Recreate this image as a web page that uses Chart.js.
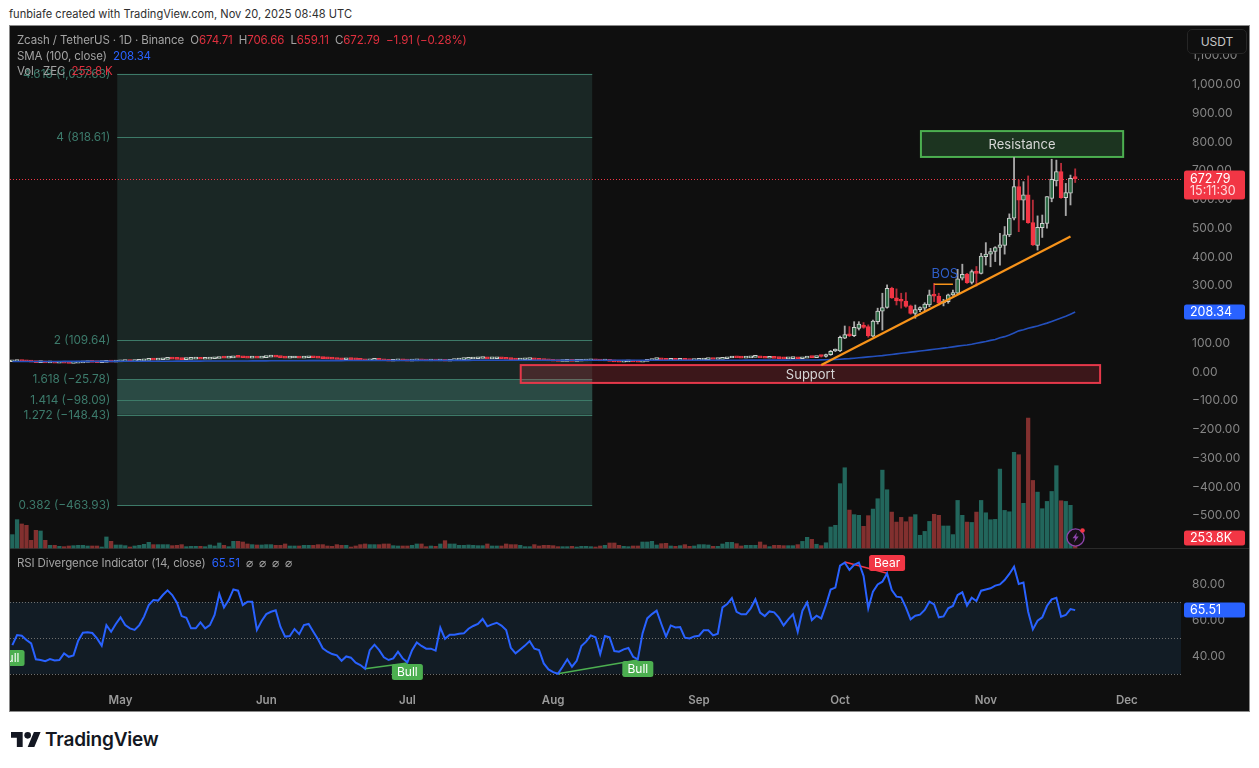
<!DOCTYPE html>
<html>
<head>
<meta charset="utf-8">
<title>Zcash / TetherUS</title>
<script src="https://cdn.jsdelivr.net/npm/chart.js@4"></script>
<style>
    html, body { margin: 0; padding: 0; background: #fff; width: 1259px; height: 768px; overflow: hidden; font-family: Inter, "Liberation Sans", sans-serif; }
    #caption { position: absolute; left: 9px; top: 7px; font-size: 11.1px; line-height: 15px; color: #2e2e2e; white-space: nowrap; }
    #frame { position: absolute; left: 10px; top: 26px; width: 1239px; height: 685px; background: #0f0f0f; box-shadow: 0 0 0 1px #8a8a8a; overflow: hidden; }
    #chart { position: absolute; left: 0; top: 0; }
    .row { position: absolute; left: 7px; font-size: 11.5px; letter-spacing: -0.12px; line-height: 15px; color: #a3a3a3; white-space: nowrap; }
    .red { color: #e0303f; }
    .blue { color: #2962ff; }
    #usdt { position: absolute; left: 1177px; top: 3px; width: 58px; height: 23px; border: 1px solid #262626; border-radius: 5px; background: #0f0f0f; color: #c8c8c8; font-size: 12px; line-height: 23px; text-align: center; }
    #bolt { position: absolute; left: 1055px; top: 500px; }
    #brand { position: absolute; left: 11px; top: 728px; display: flex; align-items: center; color: #131722; font-size: 19px; font-weight: 600; letter-spacing: -0.2px; }
    #brand svg { margin-right: 4px; }
</style>
</head>
<body>
<div id="caption">funbiafe created with TradingView.com, Nov 20, 2025 08:48 UTC</div>
<div id="frame">
    <canvas id="chart" width="1239" height="685"></canvas>
    <div class="row" style="top:7px">Zcash / TetherUS · 1D · Binance &nbsp;O<span class="red">674.71</span> &nbsp;H<span class="red">706.66</span> &nbsp;L<span class="red">659.11</span> &nbsp;C<span class="red">672.79</span> &nbsp;<span class="red">−1.91 (−0.28%)</span></div>
    <div class="row" style="top:23px">SMA (100, close) &nbsp;<span class="blue">208.34</span></div>
    <div class="row" style="top:38px">Vol · ZEC &nbsp;<span class="red">253.8 K</span></div>
    <div class="row" style="top:530px">RSI Divergence Indicator (14, close) &nbsp;<span class="blue">65.51</span> &nbsp;⌀ &nbsp;⌀ &nbsp;⌀ &nbsp;⌀</div>
    <div id="usdt">USDT</div>
    <svg id="bolt" width="22" height="22" viewBox="0 0 22 22">
        <circle cx="10.5" cy="11.5" r="8.6" fill="#161016" stroke="#8e44ad" stroke-width="1.4"/>
        <path d="M12 6.5 L7.5 12.2 H10.2 L9 16.5 L13.7 10.5 H11 Z" fill="#8e44ad"/>
        <circle cx="17.5" cy="4.5" r="2.3" fill="#f23645"/>
    </svg>
</div>
<div id="brand">
    <svg width="30" height="19" viewBox="0 4 36 18"><path d="M14 22H7V11H0V4h14v18zM28 22h-8l7.5-18h8L28 22z" fill="#131722"/><circle cx="20" cy="8" r="4" fill="#131722"/></svg>
    TradingView
</div>

<script>
// Calendar of the time axis: month name, first day, last day
const calendar = [['Apr', 8, 30], ['May', 1, 31], ['Jun', 1, 30], ['Jul', 1, 31], ['Aug', 1, 31], ['Sep', 1, 30], ['Oct', 1, 31], ['Nov', 1, 30], ['Dec', 1, 12]];
const days = [];
calendar.forEach(([month, first, last]) => {
    for (let d = first; d <= last; d++) days.push(month + ' ' + d);
});

// Daily candles, Apr 8 to Nov 20
const opens = [
    35.5, 36.5, 37.5, 36.5, 35.5, 34.5, 32.5, 33.5, 31.5, 32.5,
    31, 31.8, 31, 30.2, 31, 32, 33, 34, 33.2, 32.5,
    33.2, 36.5, 34.5, 35.2, 36, 36.8, 36, 37.5, 38.8, 40.5,
    43, 41.5, 42.5, 44, 46, 45, 44, 43, 43.8, 44.5,
    45.2, 44.2, 45, 46.2, 47, 50, 48.5, 49.2, 52.5, 51,
    49.5, 48, 49.5, 48.5, 50, 51.5, 53, 51.5, 50, 48,
    48.8, 49.5, 48.5, 49.5, 50.5, 49.5, 48, 46.5, 45.5, 44.8,
    43.5, 42.5, 43.2, 42.8, 42, 40.5, 39, 40.5, 42, 40.5,
    39, 37.5, 38.5, 39.2, 38.5, 37.8, 38.8, 40.5, 39, 38.2,
    39, 38.2, 40, 37.5, 39.5, 41.5, 42.8, 44, 45.2, 46.2,
    47, 47.8, 45.5, 46.2, 47, 46, 44.2, 42.8, 41.5, 42.5,
    43, 43.5, 42, 41, 39.8, 38.5, 37.4, 36.6, 37.2, 37.8,
    37, 37.4, 38.2, 39, 39.6, 39.2, 38.2, 39.4, 37.2, 35.4,
    34.2, 35, 35.6, 34.8, 34, 37, 40, 43, 44.4, 42.4,
    40.4, 41.2, 40.6, 41.6, 40.2, 39.4, 40.2, 41.6, 43, 44.2,
    43.4, 44, 46, 48.6, 51.2, 49.4, 48.4, 49.4, 50.6, 51.8,
    49, 47.8, 48.4, 47.4, 46.4, 45.4, 46.4, 47.4, 46, 48.4,
    53, 50,
    56, 54, 60, 73, 73, 118, 128, 126, 152, 163,
    158, 125, 175, 212, 225, 291, 258, 250, 247, 230,
    204, 217, 222, 233, 267, 264, 240, 245, 268, 274,
    326, 341, 312, 349, 343, 401, 410, 419, 433, 440,
    477, 535, 645, 598, 616, 520, 440, 502, 517, 604,
    665, 697, 606, 622, 674.71
];
const closes = [
    36.5, 37.5, 36.5, 35.5, 34.5, 32.5, 33.5, 31.5, 32.5, 31,
    31.8, 31, 30.2, 31, 32, 33, 34, 33.2, 32.5, 33.2,
    36.5, 34.5, 35.2, 36, 36.8, 36, 37.5, 38.8, 40.5, 43,
    41.5, 42.5, 44, 46, 45, 44, 43, 43.8, 44.5, 45.2,
    44.2, 45, 46.2, 47, 50, 48.5, 49.2, 52.5, 51, 49.5,
    48, 49.5, 48.5, 50, 51.5, 53, 51.5, 50, 48, 48.8,
    49.5, 48.5, 49.5, 50.5, 49.5, 48, 46.5, 45.5, 44.8, 43.5,
    42.5, 43.2, 42.8, 42, 40.5, 39, 40.5, 42, 40.5, 39,
    37.5, 38.5, 39.2, 38.5, 37.8, 38.8, 40.5, 39, 38.2, 39,
    38.2, 40, 37.5, 39.5, 41.5, 42.8, 44, 45.2, 46.2, 47,
    47.8, 45.5, 46.2, 47, 46, 44.2, 42.8, 41.5, 42.5, 43,
    43.5, 42, 41, 39.8, 38.5, 37.4, 36.6, 37.2, 37.8, 37,
    37.4, 38.2, 39, 39.6, 39.2, 38.2, 39.4, 37.2, 35.4, 34.2,
    35, 35.6, 34.8, 34, 37, 40, 43, 44.4, 42.4, 40.4,
    41.2, 40.6, 41.6, 40.2, 39.4, 40.2, 41.6, 43, 44.2, 43.4,
    44, 46, 48.6, 51.2, 49.4, 48.4, 49.4, 50.6, 51.8, 49,
    47.8, 48.4, 47.4, 46.4, 45.4, 46.4, 47.4, 46, 48.4, 53,
    50, 52,
    54, 60, 72, 76, 121, 130, 126, 155, 167, 155,
    126, 177, 212, 224, 291, 258, 247, 246, 228, 204,
    217, 222, 236, 268, 264, 239, 245, 268, 276, 324,
    340, 311, 349, 343, 403, 410, 419, 433, 442, 477,
    535, 645, 598, 616, 519, 442, 503, 517, 610, 670,
    697, 606, 624, 674, 672.79
];
// Wicks only readable from late September on, the flat part is thinner than a pixel
const wickFrom = 172;
const highs = [
    58, 62, 75, 80, 125, 160, 158, 175, 175, 172,
    164, 181, 222, 274, 303, 295, 289, 274, 276, 233,
    233, 227, 241, 285, 308, 274, 253, 271, 285, 357,
    375, 343, 355, 367, 413, 450, 430, 436, 482, 506,
    550, 747, 668, 662, 682, 598, 543, 546, 610, 740,
    737, 726, 656, 685, 706.66
];
const lows = [
    52, 52, 58, 71, 71, 116, 123, 123, 146, 152,
    121, 123, 167, 146, 222, 256, 233, 222, 225, 201,
    187, 210, 213, 227, 245, 233, 230, 239, 266, 271,
    320, 308, 306, 299, 341, 372, 366, 384, 372, 410,
    471, 529, 488, 529, 517, 440, 424, 468, 500, 592,
    647, 604, 544, 581, 659.11
];
const smaValues = [
    36.4, 36.4, 36.5, 36.5, 36.5, 36.6, 36.6, 36.6, 36.7, 36.7,
    36.7, 36.8, 36.8, 36.8, 36.9, 36.9, 36.9, 37, 37, 37,
    37.1, 37.1, 37.1, 37.2, 37.2, 37.2, 37.3, 37.3, 37.3, 37.4,
    37.4, 37.5, 37.5, 37.6, 37.6, 37.7, 37.7, 37.8, 37.8, 37.9,
    37.9, 38, 38, 38.1, 38.1, 38.2, 38.3, 38.3, 38.4, 38.5,
    38.5, 38.6, 38.7, 38.7, 38.8, 38.9, 39, 39, 39.1, 39.2,
    39.2, 39.3, 39.3, 39.4, 39.4, 39.5, 39.5, 39.6, 39.6, 39.7,
    39.7, 39.8, 39.8, 39.9, 39.9, 40, 40, 40, 40.1, 40.1,
    40.1, 40.2, 40.2, 40.2, 40.3, 40.3, 40.3, 40.3, 40.4, 40.4,
    40.4, 40.4, 40.4, 40.5, 40.5, 40.5, 40.5, 40.5, 40.6, 40.6,
    40.6, 40.6, 40.6, 40.7, 40.7, 40.7, 40.7, 40.7, 40.7, 40.8,
    40.8, 40.8, 40.8, 40.8, 40.8, 40.8, 40.8, 40.8, 40.8, 40.8,
    40.8, 40.8, 40.8, 40.8, 40.8, 40.8, 40.8, 40.8, 40.8, 40.8,
    40.8, 40.8, 40.8, 40.8, 40.8, 40.8, 40.8, 40.8, 40.8, 40.9,
    40.9, 40.9, 40.9, 40.9, 40.9, 40.9, 41, 41, 41, 41,
    41, 41, 41.1, 41.1, 41.1, 41.1, 41.2, 41.2, 41.2, 41.2,
    41.3, 41.3, 41.3, 41.4, 41.4, 41.4, 41.5, 41.5, 41.6, 41.6,
    41.7, 41.8,
    42, 42.5, 43, 43.5, 44.5, 45.5, 46.5, 48, 49.5, 51,
    52.5, 54, 55.5, 57, 59, 61, 63, 65, 67, 69,
    71, 73, 75, 77, 79, 81, 83, 85, 87.5, 90,
    92, 94, 96.5, 100, 103, 106, 110, 113, 119, 123,
    129, 136, 143, 147, 152, 156, 160, 165, 170, 176,
    182, 188, 194, 201, 208.34
];
// Volume in thousands of ZEC
const volumes = [
    339, 720, 610, 576, 195, 449, 432, 195, 68, 68,
    42, 34, 51, 59, 68, 68, 51, 51, 51, 25,
    280, 169, 76, 76, 59, 25, 51, 68, 93, 144,
    85, 85, 85, 85, 59, 68, 85, 34, 42, 42,
    42, 34, 76, 51, 127, 68, 34, 169, 169, 152,
    102, 85, 76, 76, 85, 85, 68, 68, 102, 51,
    51, 51, 68, 68, 68, 85, 85, 51, 42, 85,
    68, 68, 25, 51, 85, 102, 85, 85, 85, 102,
    102, 59, 51, 51, 51, 68, 102, 102, 34, 51,
    42, 102, 186, 102, 102, 68, 68, 76, 68, 59,
    59, 102, 51, 51, 51, 102, 85, 85, 68, 34,
    34, 85, 51, 68, 68, 59, 34, 34, 34, 42,
    25, 42, 42, 34, 25, 51, 68, 127, 127, 68,
    42, 34, 51, 51, 152, 152, 169, 76, 110, 119,
    51, 42, 59, 85, 42, 51, 85, 85, 76, 42,
    42, 102, 144, 144, 110, 51, 68, 68, 68, 152,
    76, 34, 68, 68, 59, 59, 59, 85,
    168, 271, 219, 95, 60, 133, 533, 576, 1634, 2038,
    963, 847, 830, 550, 821, 989, 1251, 1978, 1479, 912,
    658, 778, 667, 787, 847, 323, 421, 675, 856, 830,
    559, 559, 340, 1208, 830, 658, 649, 912, 1208, 894,
    718, 727, 2004, 955, 920, 2430, 2369, 1135, 3298, 1716,
    1419, 998, 1183, 1436, 2090, 1200, 1183, 1084, 253.8
];
const rsiValues = [
    46.1, 51.7, 51.3, 48.9, 47.0, 38.2, 37.8, 37.2, 38.3, 37.6,
    37.8, 41.5, 39.6, 40.4, 48.5, 53.0, 53.2, 52.8, 49.8, 45.8,
    57.2, 53.5, 57.8, 61.5, 57.2, 55.4, 54.5, 57.2, 61.9, 68.3,
    71.1, 70.8, 73.9, 76.5, 73.9, 69.6, 62.2, 61.3, 55.4, 55.4,
    58.7, 55.4, 57.2, 62.8, 74.5, 67.0, 71.1, 77.0, 76.3, 68.3,
    70.2, 70.2, 54.5, 59.5, 63.3, 64.6, 65.4, 56.3, 50.8, 51.1,
    55.0, 52.2, 57.2, 57.8, 53.5, 49.3, 44.3, 42.4, 41.1, 40.4,
    37.4, 39.8, 39.1, 36.3, 35.0, 33.0, 43.3, 46.3, 43.3, 39.3,
    37.8, 38.7, 42.4, 38.7, 36.5, 43.3, 47.6, 45.6, 44.1, 44.1,
    43.0, 55.8, 49.6, 51.9, 51.9, 52.4, 52.6, 55.2, 56.7, 57.8,
    60.6, 56.5, 57.6, 58.5, 56.9, 54.5, 44.6, 41.5, 43.7, 45.8,
    48.3, 44.1, 43.3, 35.9, 32.6, 31.1, 30.2, 34.1, 38.2, 34.1,
    37.4, 45.6, 48.0, 51.5, 50.4, 41.1, 51.1, 50.4, 42.8, 42.4,
    43.7, 44.5, 39.6, 38.2, 52.6, 60.9, 63.3, 65.2, 57.8, 50.8,
    57.0, 55.9, 56.1, 50.2, 49.8, 50.9, 51.3, 54.3, 54.3, 51.5,
    52.4, 67.0, 68.9, 72.2, 64.6, 63.2, 63.2, 66.5, 71.5, 64.1,
    62.2, 64.8, 64.3, 61.3, 57.0, 60.4, 63.2, 53.5, 65.2, 69.8,
    60.0, 62.4, 60.9, 68.3, 76.9, 78.0,
    90.2, 91.9, 87.8, 90.6, 91.9, 84.5, 66.5, 75.8, 79.8, 81.3,
    85.9, 76.7, 73.0, 72.6, 67.0, 60.4, 62.4, 63.0, 65.6, 70.2,
    68.7, 61.5, 62.0, 66.5, 67.8, 73.9, 75.4, 68.0, 72.4, 70.6,
    76.3, 77.0, 77.6, 79.1, 79.8, 82.2, 85.6, 89.6, 80.0, 80.8,
    64.6, 54.8, 59.6, 61.5, 67.8, 71.5, 72.4, 61.9, 62.8, 66.1,
    65.51
];

// Axes
const priceTicks = [1100, 1000, 900, 800, 700, 600, 500, 400, 300, 200, 100, 0, -100, -200, -300, -400, -500];
const rsiTicks = [80, 60, 40];

// Drawings on the price pane
const fibNames = ['4.618', '4', '2', '1.618', '1.414', '1.272', '0.382'];
const fibLevels = [1037.63, 818.61, 109.64, -25.78, -98.09, -148.43, -463.93];
const fibSpan = [22.3, 123.3];
const trendLine = [{ x: 'Sep 27', y: 24 }, { x: 'Nov 19', y: 471 }];
const bosLine = [{ x: 'Oct 21', y: 305 }, { x: 'Oct 25', y: 305 }];
const resistanceSpan = [193.2, 236.2];
const resistanceLevels = [838, 748];
const supportSpan = [108.1, 231.3];
const supportLevels = [24, -38];

// Divergences on the RSI pane
const bullOne = [{ x: 'Jun 22', y: 33.0 }, { x: 'Jul 1', y: 36.1 }];
const bullTwo = [{ x: 'Aug 2', y: 30.2 }, { x: 'Aug 19', y: 37.8 }];
const bearOne = [{ x: 'Oct 2', y: 92.2 }, { x: 'Oct 11', y: 86 }];
const signalNames = ['Bull', 'Bull', 'Bull', 'Bear'];
const signalDays = [-0.7, 84, 133, 186];
const signalLevels = [38.9, 31.1, 32.8, 91.7];

const GREEN = '#4caf50';
const RED = '#f23645';
const BLUE = '#2962ff';
const FONT = 'Inter, "Liberation Sans", sans-serif';

const last = closes.length - 1;
const isUp = closes.map((c, i) => c >= opens[i]);

function formatPrice(v) {
    const text = Math.abs(v).toLocaleString('en-US', { minimumFractionDigits: 2, maximumFractionDigits: 2 });
    return (v < 0 ? '−' : '') + text;
}

function pill(ctx, x, y, w, h, color) {
    ctx.fillStyle = color;
    ctx.beginPath();
    ctx.roundRect(x, y, w, h, 2.5);
    ctx.fill();
}

// Fibonacci zones, boxes and the band under everything
const underlay = {
    id: 'underlay',
    beforeDatasetsDraw(chart) {
        const { ctx, scales, chartArea, width } = chart;
        const x = scales.x, y = scales.y, rsi = scales.yRsi;
        ctx.save();

        const left = x.getPixelForValue(fibSpan[0]);
        const right = x.getPixelForValue(fibSpan[1]);
        const level = i => y.getPixelForValue(fibLevels[i]);
        ctx.fillStyle = '#1a2725';
        ctx.fillRect(left, level(0), right - left, level(6) - level(0));
        ctx.fillStyle = '#2a4a44';
        ctx.fillRect(left, level(3), right - left, level(5) - level(3));
        ctx.strokeStyle = '#3d7a68';
        ctx.lineWidth = 1;
        ctx.font = '11.8px ' + FONT;
        ctx.textAlign = 'right';
        ctx.textBaseline = 'middle';
        fibLevels.forEach((lv, i) => {
            const py = Math.round(level(i)) + 0.5;
            ctx.beginPath();
            ctx.moveTo(left, py);
            ctx.lineTo(right, py);
            ctx.stroke();
            ctx.fillStyle = '#3c7a6b';
            ctx.fillText(fibNames[i] + ' (' + formatPrice(lv) + ')', left - 7, py);
        });

        // RSI band
        const top = rsi.getPixelForValue(70), mid = rsi.getPixelForValue(50), bottom = rsi.getPixelForValue(30);
        ctx.fillStyle = '#121c25';
        ctx.fillRect(chartArea.left, top, chartArea.width, bottom - top);
        ctx.strokeStyle = '#6f6f6f';
        ctx.setLineDash([1, 2]);
        [top, mid, bottom].forEach(py => {
            ctx.beginPath();
            ctx.moveTo(chartArea.left, Math.round(py) + 0.5);
            ctx.lineTo(chartArea.right, Math.round(py) + 0.5);
            ctx.stroke();
        });
        ctx.setLineDash([]);

        // Pane separator
        ctx.strokeStyle = '#2a2a2a';
        ctx.beginPath();
        ctx.moveTo(0, rsi.top + 0.5);
        ctx.lineTo(width, rsi.top + 0.5);
        ctx.stroke();

        // Support and resistance
        const box = (span, levels, fill, stroke, label) => {
            const bx = x.getPixelForValue(span[0]), ex = x.getPixelForValue(span[1]);
            const by = y.getPixelForValue(levels[0]), ey = y.getPixelForValue(levels[1]);
            ctx.fillStyle = fill;
            ctx.fillRect(bx, by, ex - bx, ey - by);
            ctx.strokeStyle = stroke;
            ctx.lineWidth = 2;
            ctx.strokeRect(bx, by, ex - bx, ey - by);
            ctx.fillStyle = '#d6d6d6';
            ctx.font = '13px ' + FONT;
            ctx.textAlign = 'center';
            ctx.fillText(label, (bx + ex) / 2, (by + ey) / 2 + 1);
        };
        box(supportSpan, supportLevels, 'rgba(242,54,69,0.2)', '#e5384a', 'Support');
        box(resistanceSpan, resistanceLevels, '#1c3420', GREEN, 'Resistance');

        // Last price line
        const lastY = Math.round(y.getPixelForValue(closes[last])) + 0.5;
        ctx.strokeStyle = RED;
        ctx.lineWidth = 1;
        ctx.setLineDash([1, 2]);
        ctx.beginPath();
        ctx.moveTo(chartArea.left, lastY);
        ctx.lineTo(chartArea.right, lastY);
        ctx.stroke();
        ctx.restore();
    }
};

// Signal labels, BOS and the value tags on the price scale
const overlay = {
    id: 'overlay',
    afterDatasetsDraw(chart) {
        const { ctx, scales, chartArea } = chart;
        const x = scales.x, y = scales.y, rsi = scales.yRsi, vol = scales.yVol;
        ctx.save();
        ctx.textBaseline = 'middle';
        ctx.textAlign = 'center';
        ctx.font = '12px ' + FONT;

        signalNames.forEach((name, i) => {
            const px = x.getPixelForValue(signalDays[i]);
            const py = rsi.getPixelForValue(signalLevels[i]);
            const w = name === 'Bear' ? 36 : 31;
            pill(ctx, px - w / 2, py - 8, w, 16, name === 'Bear' ? RED : GREEN);
            ctx.fillStyle = '#fff';
            ctx.fillText(name, px, py + 0.5);
        });

        ctx.fillStyle = '#2f5fc9';
        ctx.font = '13px ' + FONT;
        ctx.fillText('BOS', x.getPixelForValue('Oct 22') + 6, y.getPixelForValue(340));

        // Value tags on the right
        const tagX = chartArea.right + 3, tagW = 61;
        ctx.textAlign = 'left';
        ctx.font = '12.5px ' + FONT;
        const priceY = y.getPixelForValue(closes[last]);
        pill(ctx, tagX, priceY - 8, tagW, 29, RED);
        ctx.fillStyle = '#fff';
        ctx.fillText(formatPrice(closes[last]), tagX + 6, priceY + 0.5);
        ctx.fillStyle = '#ffd9dc';
        ctx.fillText('15:11:30', tagX + 6, priceY + 13);

        const tag = (py, color, text) => {
            pill(ctx, tagX, py - 7.5, tagW, 15, color);
            ctx.fillStyle = '#fff';
            ctx.fillText(text, tagX + 6, py + 0.5);
        };
        tag(y.getPixelForValue(smaValues[last]), BLUE, formatPrice(smaValues[last]));
        tag(vol.getPixelForValue(volumes[last]), RED, volumes[last] + 'K');
        tag(rsi.getPixelForValue(rsiValues[last]), BLUE, rsiValues[last].toFixed(2));
        ctx.restore();
    }
};

function lineSet(data, color, width, axis, order) {
    return { type: 'line', data, borderColor: color, borderWidth: width, pointRadius: 0, tension: 0, yAxisID: axis, order };
}

// Stacked panes should fill their share without room for half a tick label
function fitPane(scale) {
    scale.width = 68;
    scale.paddingTop = 0;
    scale.paddingBottom = 0;
}

new Chart(document.getElementById('chart'), {
    data: {
        labels: days,
        datasets: [
            {
                type: 'bar',
                data: volumes,
                yAxisID: 'yVol',
                barThickness: 3.6,
                backgroundColor: isUp.map(up => up ? '#22665c' : '#82302f'),
                grouped: false,
                order: 9
            },
            {
                type: 'bar',
                data: days.map((d, i) => i >= wickFrom && i <= last ? [lows[i - wickFrom], highs[i - wickFrom]] : null),
                yAxisID: 'y',
                barThickness: 1.2,
                backgroundColor: isUp.map(up => up ? '#a8a8a8' : '#b52c39'),
                grouped: false,
                order: 8
            },
            {
                type: 'bar',
                data: opens.map((o, i) => [o, closes[i]]),
                yAxisID: 'y',
                barThickness: 4,
                minBarLength: 2,
                borderWidth: 1,
                borderSkipped: false,
                backgroundColor: isUp.map(up => up ? '#2c6a45' : RED),
                borderColor: isUp.map(up => up ? '#cfcfcf' : RED),
                grouped: false,
                order: 7
            },
            lineSet(smaValues, '#2450bd', 1.6, 'y', 6),
            lineSet(trendLine, '#f7931a', 2.2, 'y', 5),
            lineSet(bosLine, '#f7931a', 1.5, 'y', 5),
            lineSet(bullOne, GREEN, 1.5, 'yRsi', 4),
            lineSet(bullTwo, GREEN, 1.5, 'yRsi', 4),
            lineSet(bearOne, RED, 1.5, 'yRsi', 4),
            lineSet(rsiValues, BLUE, 2, 'yRsi', 3)
        ]
    },
    options: {
        responsive: false,
        animation: false,
        plugins: { legend: { display: false }, tooltip: { enabled: false } },
        layout: { padding: 0 },
        scales: {
            x: {
                offset: true,
                grid: { display: false, drawTicks: false },
                border: { display: false },
                afterFit: scale => { scale.height = 29; },
                ticks: {
                    autoSkip: false,
                    maxRotation: 0,
                    padding: 12,
                    color: '#9a9a9a',
                    font: { family: FONT, size: 11.5, weight: '600' },
                    callback: (val, i) => days[i].endsWith(' 1') ? days[i].split(' ')[0] : null
                }
            },
            y: {
                position: 'right',
                stack: 'panes',
                stackWeight: 522,
                min: -612.2,
                max: 1203.5,
                grid: { display: false, drawTicks: false },
                border: { display: false },
                afterFit: fitPane,
                afterBuildTicks: scale => { scale.ticks = priceTicks.map(value => ({ value })); },
                ticks: {
                    autoSkip: false,
                    padding: 11,
                    crossAlign: 'near',
                    color: '#858585',
                    font: { family: FONT, size: 12 },
                    callback: value => formatPrice(value)
                }
            },
            yRsi: {
                position: 'right',
                stack: 'panes',
                stackWeight: 134,
                min: 25.6,
                max: 100,
                grid: { display: false, drawTicks: false },
                border: { display: false },
                afterFit: fitPane,
                afterBuildTicks: scale => { scale.ticks = rsiTicks.map(value => ({ value })); },
                ticks: {
                    autoSkip: false,
                    padding: 11,
                    crossAlign: 'near',
                    color: '#858585',
                    font: { family: FONT, size: 12 },
                    callback: value => formatPrice(value)
                }
            },
            yVol: { display: false, min: -3404, max: 13259 }
        }
    },
    plugins: [underlay, overlay]
});
</script>
</body>
</html>
